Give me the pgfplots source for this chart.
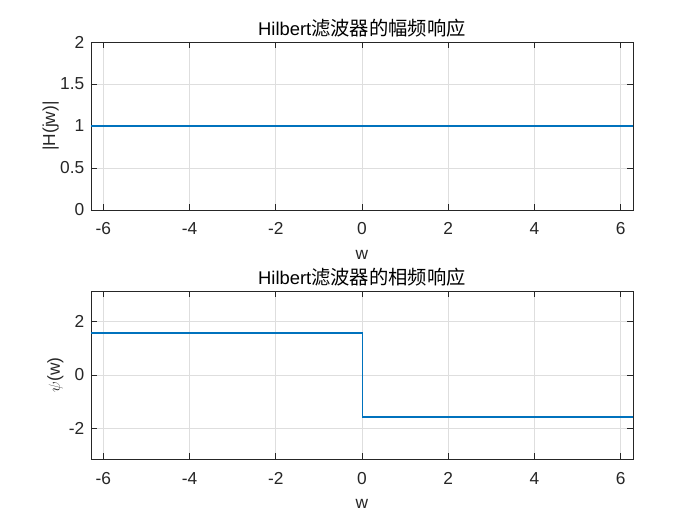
\documentclass[border=0pt]{standalone}
\usepackage{pgfplots}
\pgfplotsset{compat=1.18}
\usepackage{fontspec}
\setmainfont{Liberation Sans}
\newfontfamily\cjk[Scale=1.05]{Noto Sans CJK SC}
\definecolor{mblue}{rgb}{0,0.447,0.741}
\definecolor{axc}{rgb}{0.15,0.15,0.15}
\definecolor{gridc}{rgb}{0.87,0.87,0.87}
\pgfplotsset{
  mystyle/.style={
    scale only axis, width=406.5pt, height=126pt,
    anchor=south west,
    xmin=-6.2832, xmax=6.2832,
    xtick={-6,-4,-2,0,2,4,6},
    tick align=inside, major tick length=4.5pt,
    axis line style={axc, line width=0.6pt},
    every tick/.style={axc, line width=0.6pt},
    grid=major, major grid style={gridc, line width=0.5pt},
    /pgf/number format/assume math mode=true,
    tick label style={font=\fontsize{13}{15}\selectfont, text=axc},
    xticklabel style={anchor=base, yshift=-18.75pt},
    yticklabel style={anchor=east, xshift=-1.5pt},
    label style={font=\fontsize{13}{15}\selectfont, text=axc},
    every axis title shift=0pt,
    title style={font=\fontsize{13.8}{15}\selectfont, text=black, at={(0.5,1)}, anchor=base, yshift=4.7pt},
    xlabel style={at={(axis description cs:0.5,0)}, anchor=base, yshift=-37pt},
  }
}
\begin{document}
\begin{tikzpicture}
\path[use as bounding box] (0,0) rectangle (525pt,393.75pt);
\begin{axis}[mystyle, at={(68.25pt,236.25pt)},
  ymin=0, ymax=2, ytick={0,0.5,1,1.5,2},
  xlabel={w}, ylabel={|H(jw)|},
  ylabel style={at={(axis description cs:-0.0664,0.5)}, anchor=base},
  title={Hilbert{\cjk 滤波器的幅频响应}}]
\addplot[mblue, line width=0.9pt] coordinates {(-6.2832,1) (6.2832,1)};
\end{axis}
\begin{axis}[mystyle, at={(68.25pt,49.5pt)},
  ymin=-3.1416, ymax=3.1416, ytick={-2,0,2},
  xlabel={w}, ylabel={$\psi$(w)},
  ylabel style={at={(axis description cs:-0.0572,0.5)}, anchor=base},
  title={Hilbert{\cjk 滤波器的相频响应}}]
\addplot[mblue, line width=0.9pt] coordinates {(-6.2832,1.5708) (0.02,1.5708) (0.02,-1.5708) (6.2832,-1.5708)};
\end{axis}
\end{tikzpicture}
\end{document}
